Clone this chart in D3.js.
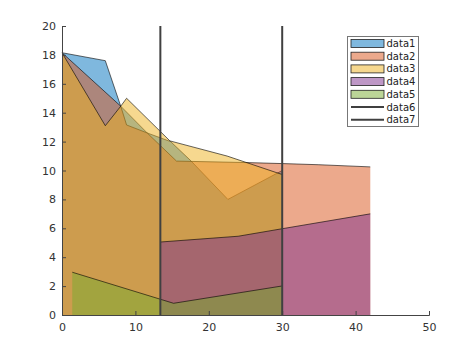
<!DOCTYPE html>
<html><head><meta charset="utf-8">
<script src="https://cdn.jsdelivr.net/npm/d3@7"></script>
<style>body{margin:0;background:#fff}svg{display:block}</style>
</head><body>
<svg id="c" width="474" height="355"></svg>
<script>
const seriesNames = ["data1","data2","data3","data4","data5","data6","data7"];
const colors = ["#0072bd","#d95319","#edb120","#7e2f8e","#77ac30"];
const x1 = [0, 5.9, 8.0, 11.6, 14.8, 17.6, 22.6, 30];
const y1 = [18.15, 17.6, 14.45, 12.6, 12.0, 10.65, 8.0, 10.0];
const x2 = [0, 8.0, 8.8, 11.6, 15.6, 25, 30, 35, 42];
const y2 = [18.15, 14.45, 13.15, 12.6, 10.65, 10.55, 10.48, 10.4, 10.25];
const x3 = [0, 5.9, 8.0, 8.8, 14.7, 22.5, 30];
const y3 = [18.15, 13.1, 14.45, 15.0, 12.05, 11.0, 9.72];
const x4 = [13.4, 24, 30, 42];
const y4 = [5.05, 5.45, 5.97, 7.0];
const x5 = [1.4, 15.2, 30];
const y5 = [2.96, 0.81, 2.01];
const vlines = [13.4, 30];
const xTicks = [0, 10, 20, 30, 40, 50];
const yTicks = [0, 2, 4, 6, 8, 10, 12, 14, 16, 18, 20];

const svg = d3.select("#c");
const x = d3.scaleLinear().domain([0, 50]).range([62, 429]);
const y = d3.scaleLinear().domain([0, 20]).range([315, 26]);
const axisCol = "#444";

const areas = [[x1,y1],[x2,y2],[x3,y3],[x4,y4],[x5,y5]];
const area = d3.area().x(d => x(d[0])).y0(y(0)).y1(d => y(d[1]));
const line = d3.line().x(d => x(d[0])).y(d => y(d[1]));
const gA = svg.append("g");
areas.forEach(([xs, ys], i) => {
  const pts = xs.map((v, k) => [v, ys[k]]);
  gA.append("path").attr("d", area(pts)).attr("fill", colors[i]).attr("fill-opacity", 0.5);
  gA.append("path").attr("d", line(pts)).attr("fill", "none").attr("stroke", "#000").attr("stroke-width", 0.8).attr("stroke-opacity", 0.75);
});

// axes
const gx = svg.append("g").attr("transform", `translate(0,${y(0)})`)
  .call(d3.axisBottom(x).tickValues(xTicks).tickSize(-4).tickPadding(8));
const gy = svg.append("g").attr("transform", `translate(${x(0)},0)`)
  .call(d3.axisLeft(y).tickValues(yTicks).tickSize(-4).tickPadding(6));
[gx, gy].forEach(g => {
  g.select(".domain").attr("stroke", axisCol).attr("stroke-width", 1);
  g.selectAll(".tick line").attr("stroke", axisCol);
  g.selectAll(".tick text").attr("fill", "#333").style("font-family", "DejaVu Sans").style("font-size", "11px");
});

// vertical lines
vlines.forEach(v => {
  svg.append("line").attr("x1", x(v)).attr("x2", x(v)).attr("y1", y(0)).attr("y2", y(20))
    .attr("stroke", "#404040").attr("stroke-width", 2);
});

// legend
const lg = svg.append("g");
lg.append("rect").attr("x", 347.5).attr("y", 36.5).attr("width", 71).attr("height", 90)
  .attr("fill", "#fff").attr("stroke", "#777").attr("stroke-width", 1);
seriesNames.forEach((n, i) => {
  const cy = 43.5 + i * 12.7;
  if (i < 5) {
    lg.append("rect").attr("x", 351).attr("y", cy - 4).attr("width", 33).attr("height", 8)
      .attr("fill", colors[i]).attr("fill-opacity", 0.5).attr("stroke", "#222").attr("stroke-width", 0.8);
  } else {
    lg.append("line").attr("x1", 351).attr("x2", 384).attr("y1", cy).attr("y2", cy)
      .attr("stroke", "#404040").attr("stroke-width", 2);
  }
  lg.append("text").attr("x", 386.5).attr("y", cy).attr("dy", "0.35em").text(n)
    .attr("fill", "#222").style("font-family", "DejaVu Sans").style("font-size", "10px");
});
</script>
</body></html>
